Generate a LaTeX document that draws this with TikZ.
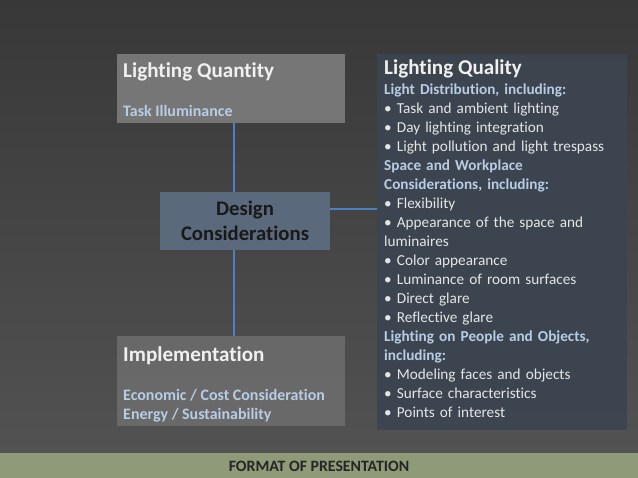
\documentclass[tikz,border=0pt]{standalone}
\usepackage{fontspec}
\setmainfont{Carlito}[Ligatures=NoCommon]
\definecolor{bgtop}{HTML}{383838}
\definecolor{bgmid}{HTML}{6A6A6A}
\definecolor{bgbot}{HTML}{525252}
\definecolor{quantfill}{HTML}{7D7D7D}
\definecolor{implfill}{HTML}{6C6C6C}
\definecolor{designfill}{HTML}{5A6A7C}
\definecolor{qualfill}{HTML}{3C4550}
\definecolor{linkblue}{HTML}{4A80C4}
\definecolor{headblue}{HTML}{B8CCE4}
\definecolor{bandgreen}{HTML}{8E9A78}
\begin{document}
\begin{tikzpicture}
        [x=0.03cm, y=-0.03cm,
        panel/.style={rectangle, inner sep=0pt, draw=none},
        boxtitle/.style={anchor=base west, inner sep=0pt, text=white!94!black, font=\fontsize{18}{21}\selectfont\bfseries},
        boxsub/.style={anchor=base west, inner sep=0pt, text=headblue, font=\fontsize{13.6}{16.2}\selectfont\bfseries, align=left},
        link/.style={linkblue, line width=1.6pt}]

        \useasboundingbox (0,0) rectangle (638,478);

        % background and bottom band
        \shade[top color=bgtop, middle color=bgmid, bottom color=bgbot] (0,0) rectangle (638,453);
        \node[panel, fill=bandgreen, minimum width=19.14cm, minimum height=0.75cm] (band) at (319,465.5) {};
        \node[inner sep=0pt, text=black!85, font=\fontsize{13.5}{16}\selectfont\bfseries] (footer) at (319,466) {FORMAT OF PRESENTATION};

        % the four boxes
        \node[panel, fill=quantfill, fill opacity=0.9, minimum width=6.84cm, minimum height=2.07cm] (quantity) at (231,88.5) {};
        \node[panel, fill=designfill, minimum width=5.1cm, minimum height=1.74cm, align=center,
              text=black!90, font=\fontsize{17.7}{21}\selectfont\bfseries] (design) at (245,221) {Design\\Considerations};
        \node[panel, fill=implfill, fill opacity=0.9, minimum width=6.84cm, minimum height=2.7cm] (impl) at (231,381) {};
        \node[panel, fill=qualfill, fill opacity=0.95, minimum width=7.5cm, minimum height=11.28cm] (quality) at (502,242) {};

        % helper points for the connectors
        \coordinate (spine) at (234,0);
        \coordinate (arm) at (0,209);

        % connectors
        \draw[link] (quantity.south -| spine) -- (design.north -| spine);
        \draw[link] (design.south -| spine) -- (impl.north -| spine);
        \draw[link] (design.east |- arm) -- (quality.west |- arm);

        % box texts
        \node[boxtitle] (quantitytitle) at (123,78) {Lighting Quantity};
        \node[boxsub] (quantitysub) at (123,117) {Task Illuminance};

        \node[boxtitle] (impltitle) at (123,361) {Implementation};
        \node[boxsub] (implsub) at (123,419) {Economic / Cost Consideration\\Energy / Sustainability};

        \node[boxtitle] (qualitytitle) at (384,75) {Lighting Quality};
        \node[anchor=base west, inner sep=0pt, text width=7.3cm, align=left, text=white!90!black,
              font=\fontsize{13}{16.2}\selectfont] (qualitytext) at (384,95)
            {\textcolor{headblue}{\bfseries Light Distribution, including:}\\
             • Task and ambient lighting\\
             • Day lighting integration\\
             • Light pollution and light trespass\\
             \textcolor{headblue}{\bfseries Space and Workplace}\\
             \textcolor{headblue}{\bfseries Considerations, including:}\\
             • Flexibility\\
             • Appearance of the space and\\
             luminaires\\
             • Color appearance\\
             • Luminance of room surfaces\\
             • Direct glare\\
             • Reflective glare\\
             \textcolor{headblue}{\bfseries Lighting on People and Objects,}\\
             \textcolor{headblue}{\bfseries including:}\\
             • Modeling faces and objects\\
             • Surface characteristics\\
             • Points of interest};

    \end{tikzpicture}
\end{document}
